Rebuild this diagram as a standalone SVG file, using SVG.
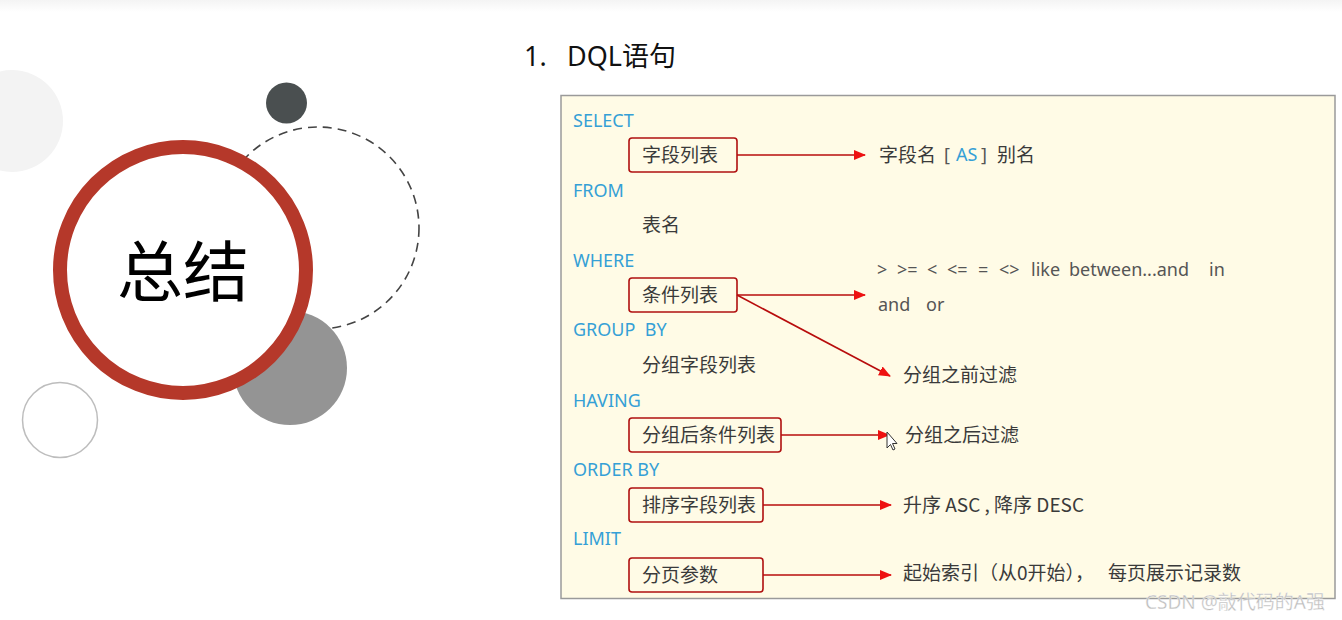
<svg xmlns="http://www.w3.org/2000/svg" width="1342" height="620" viewBox="0 0 1342 620">
<defs>
<style>
.kw{font-family:"Noto Sans","Liberation Sans","Noto Sans CJK SC",sans-serif;font-size:18px;fill:#35a0d6}
.tx{font-family:"Noto Sans CJK SC","Noto Sans",sans-serif;font-size:19px;fill:#3a3a3a}
.lt{font-family:"Noto Sans","Noto Sans CJK SC",sans-serif;font-size:18px;fill:#555}
.nd{fill:#fffbe6;stroke:#b01010;stroke-width:1.6}
.cn{stroke:#b80c0c;stroke-width:1.6;fill:none}
</style>
<marker id="ah" markerWidth="12" markerHeight="10" refX="11" refY="5" orient="auto" markerUnits="userSpaceOnUse">
<path d="M0,0 L12,5 L0,10 Z" fill="#ee1111"/>
</marker>
<linearGradient id="topg" x1="0" y1="0" x2="0" y2="1">
<stop offset="0" stop-color="#f4f4f4"/>
<stop offset="1" stop-color="#ffffff"/>
</linearGradient>
</defs>
<rect width="1342" height="620" fill="#ffffff"/>
<rect width="1342" height="12" fill="url(#topg)"/>

<g id="decor">
<circle cx="12" cy="121" r="51" fill="#f3f3f3"/>
<circle cx="286.5" cy="103" r="20.5" fill="#4a4f50"/>
<circle cx="318" cy="228" r="101" fill="none" stroke="#444" stroke-width="1.6" stroke-dasharray="9,6"/>
<circle cx="290" cy="368" r="57" fill="#949494"/>
<circle cx="60" cy="420" r="37.5" fill="#fff" stroke="#bdbdbd" stroke-width="1.5"/>
</g>
<g id="summary">
<circle cx="183" cy="270" r="123" fill="#fff" stroke="#b5382a" stroke-width="14"/>
<text x="183" y="296" text-anchor="middle" style="font-family:'Noto Sans CJK SC',sans-serif;font-size:66px;fill:#000">总结</text>
</g>

<g id="title">
<text x="524" y="66" style="font-family:'Noto Sans','Noto Sans CJK SC',sans-serif;font-size:27px;fill:#111">1.</text>
<text x="567" y="66" style="font-family:'Noto Sans','Noto Sans CJK SC',sans-serif;font-size:27px;fill:#111">DQL语句</text>
</g>

<g id="panel">
<rect x="561" y="95.5" width="774" height="503" fill="#fffbe6" stroke="#9a9a9a" stroke-width="1.5"/>
</g>

<g id="keywords">
<text class="kw" x="573" y="127">SELECT</text>
<text class="kw" x="573" y="197">FROM</text>
<text class="kw" x="573" y="267">WHERE</text>
<text class="kw" x="573" y="336" xml:space="preserve">GROUP  BY</text>
<text class="kw" x="573" y="407">HAVING</text>
<text class="kw" x="573" y="476">ORDER BY</text>
<text class="kw" x="573" y="545">LIMIT</text>
<text class="tx" x="642" y="232">表名</text>
<text class="tx" x="642" y="372">分组字段列表</text>
</g>

<g id="n-fields"><rect class="nd" x="629" y="138" width="108" height="34" rx="3"/><text class="tx" x="642" y="162">字段列表</text></g>
<g id="n-cond"><rect class="nd" x="629" y="278" width="108" height="34" rx="3"/><text class="tx" x="642" y="302">条件列表</text></g>
<g id="n-having"><rect class="nd" x="629" y="418" width="152" height="34" rx="3"/><text class="tx" x="642" y="442">分组后条件列表</text></g>
<g id="n-order"><rect class="nd" x="629" y="488" width="134" height="34" rx="3"/><text class="tx" x="642" y="512">排序字段列表</text></g>
<g id="n-limit"><rect class="nd" x="629" y="558" width="134" height="34" rx="3"/><text class="tx" x="642" y="582">分页参数</text></g>

<g id="connectors">
<line class="cn" x1="737" y1="155" x2="865" y2="155" marker-end="url(#ah)"/>
<line class="cn" x1="737" y1="295" x2="865" y2="295" marker-end="url(#ah)"/>
<line class="cn" x1="737" y1="295" x2="890" y2="376" marker-end="url(#ah)"/>
<line class="cn" x1="781" y1="435" x2="889" y2="435" marker-end="url(#ah)"/>
<line class="cn" x1="763" y1="505" x2="891" y2="505" marker-end="url(#ah)"/>
<line class="cn" x1="763" y1="575" x2="891" y2="575" marker-end="url(#ah)"/>
</g>

<g id="r-fields">
<text class="tx" x="879" y="162">字段名</text>
<text class="lt" x="944" y="161">[</text>
<text class="kw" x="956" y="161">AS</text>
<text class="lt" x="981" y="161">]</text>
<text class="tx" x="997" y="162">别名</text>
</g>
<g id="r-cond">
<text class="lt" x="877" y="276">&gt;</text>
<text class="lt" x="897" y="276">&gt;=</text>
<text class="lt" x="927" y="276">&lt;</text>
<text class="lt" x="947" y="276">&lt;=</text>
<text class="lt" x="978" y="276">=</text>
<text class="lt" x="999" y="276">&lt;&gt;</text>
<text class="lt" x="1031" y="276">like</text>
<text class="lt" x="1069" y="276">between...and</text>
<text class="lt" x="1209" y="276">in</text>
<text class="lt" x="878" y="311">and</text>
<text class="lt" x="926" y="311">or</text>
</g>
<g id="r-before"><text class="tx" x="903" y="382">分组之前过滤</text></g>
<g id="r-after"><text class="tx" x="905" y="442">分组之后过滤</text></g>
<g id="r-order"><text class="tx" x="903" y="512">升序 ASC , 降序 DESC</text></g>
<g id="r-limit">
<text class="tx" x="903" y="580">起始索引（从0开始），</text>
<text class="tx" x="1108" y="580">每页展示记录数</text>
</g>

<g id="cursor">
<path d="M887,432 L887,448 L890.5,444.5 L893,450 L895,449 L892.5,443.5 L897,443.5 Z" fill="#fff" stroke="#333" stroke-width="1"/>
</g>

<g id="watermark">
<text x="1145" y="609" style="font-family:'Noto Sans','Noto Sans CJK SC',sans-serif;font-size:19px;fill:#bdbdbd;stroke:#fff;stroke-width:0.3">CSDN @敲代码的A强</text>
</g>
</svg>
